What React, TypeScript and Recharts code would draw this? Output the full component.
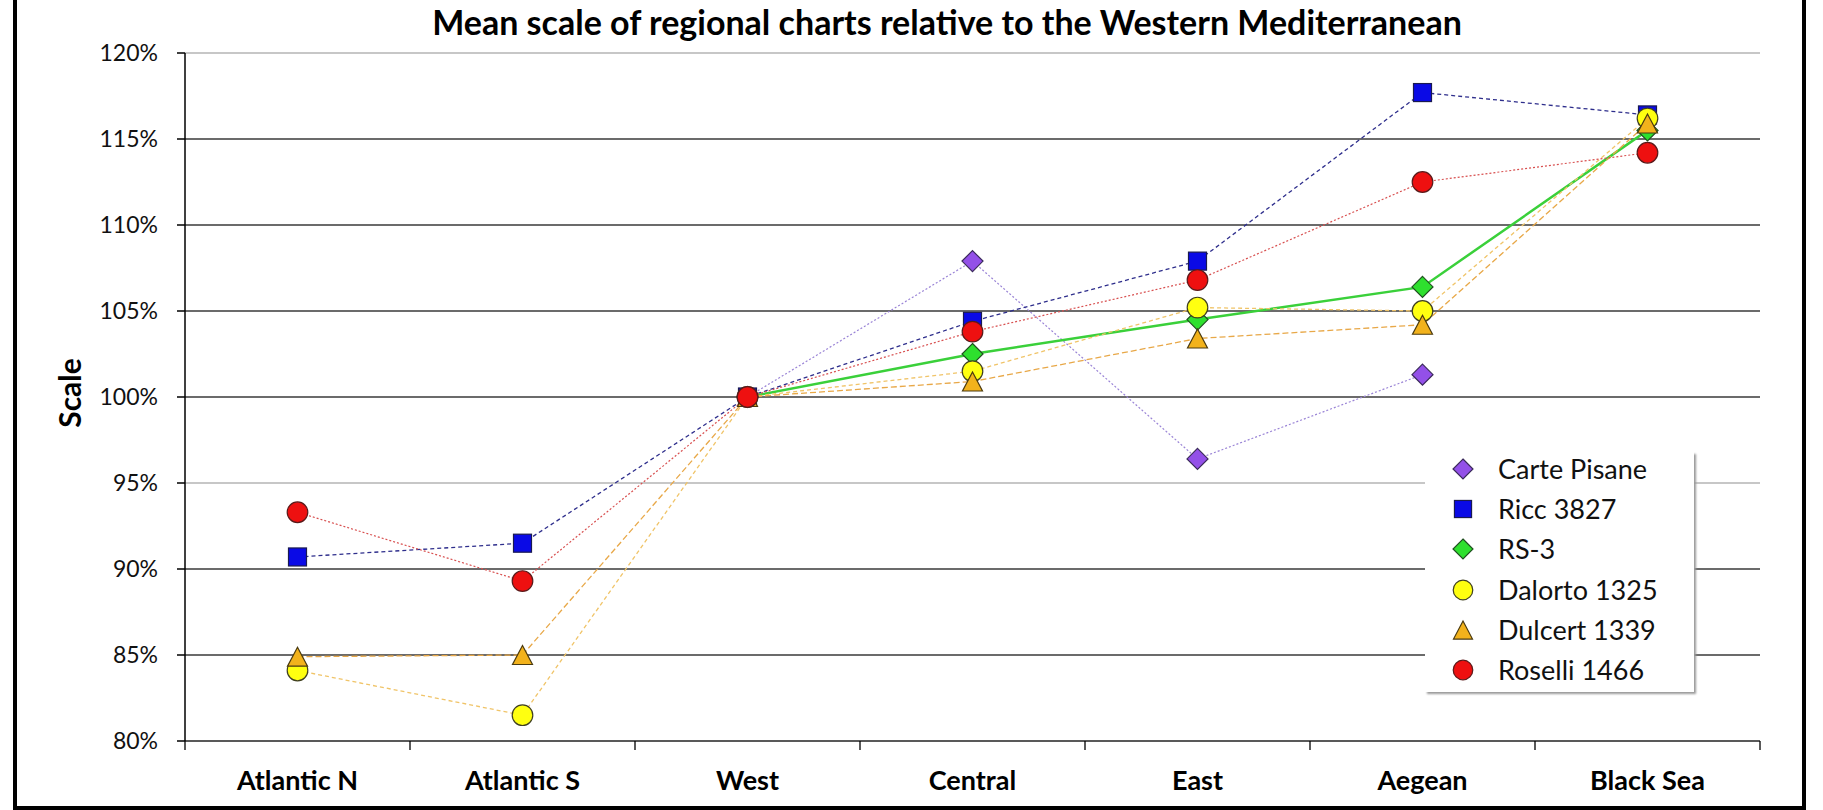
import React from 'react';
import { LineChart, Line, XAxis, YAxis, ReferenceLine } from 'recharts';

const CATEGORIES = ['Atlantic N', 'Atlantic S', 'West', 'Central', 'East', 'Aegean', 'Black Sea'];
const CARTE_PISANE = [null, null, 100, 107.9, 96.4, 101.3, null];
const RICC_3827 = [90.7, 91.5, 100, 104.4, 107.9, 117.7, 116.4];
const RS_3 = [null, null, 100, 102.5, 104.5, 106.4, 115.5];
const DALORTO_1325 = [84.1, 81.5, 100, 101.5, 105.2, 105.0, 116.2];
const DULCERT_1339 = [84.9, 85.0, 100, 100.9, 103.4, 104.2, 115.9];
const ROSELLI_1466 = [93.3, 89.3, 100, 103.8, 106.8, 112.5, 114.2];
const Y_TICKS = [80, 85, 90, 95, 100, 105, 110, 115, 120];
const LIGHT_GRID = [95, 120];
const TITLE = 'Mean scale of regional charts relative to the Western Mediterranean';
const Y_LABEL = 'Scale';

const W = 1823;
const H = 810;
const PLOT_LEFT = 185;
const PLOT_RIGHT = 1760;
const PLOT_TOP = 53;
const PLOT_BOTTOM = 741;
const BAND = (PLOT_RIGHT - PLOT_LEFT) / CATEGORIES.length;
const FONT = 'Lato, "Open Sans", sans-serif';

type Shape = 'diamond' | 'square' | 'circle' | 'triangle';

const SERIES: { key: string; name: string; values: (number | null)[]; shape: Shape; fill: string; stroke: string; line: string; width: number; dash?: string }[] = [
  { key: 'cp', name: 'Carte Pisane', values: CARTE_PISANE, shape: 'diamond', fill: '#9350e8', stroke: '#3a2a5a', line: '#9a84d6', width: 1.2, dash: '2 2' },
  { key: 'ricc', name: 'Ricc 3827', values: RICC_3827, shape: 'square', fill: '#0a0ae6', stroke: '#1a1a50', line: '#2e2e8c', width: 1.3, dash: '4 3' },
  { key: 'rs3', name: 'RS-3', values: RS_3, shape: 'diamond', fill: '#2ee02e', stroke: '#205020', line: '#3ad03a', width: 2.5 },
  { key: 'dal', name: 'Dalorto 1325', values: DALORTO_1325, shape: 'circle', fill: '#ffff10', stroke: '#404020', line: '#f0c468', width: 1.3, dash: '4 3' },
  { key: 'dul', name: 'Dulcert 1339', values: DULCERT_1339, shape: 'triangle', fill: '#f2b21c', stroke: '#4a3a10', line: '#e8a848', width: 1.3, dash: '6 3' },
  { key: 'ros', name: 'Roselli 1466', values: ROSELLI_1466, shape: 'circle', fill: '#ee1010', stroke: '#5a1a1a', line: '#d85050', width: 1.2, dash: '2 2' },
];

const data = CATEGORIES.map((region, i) => {
  const row: Record<string, any> = { region };
  SERIES.forEach((s) => {
    row[s.key] = s.values[i];
  });
  return row;
});

function MarkerShape({ shape, cx, cy, fill, stroke, scale = 1 }: { shape: Shape; cx: number; cy: number; fill: string; stroke: string; scale?: number }) {
  if (shape === 'diamond') {
    const r = 10.5 * scale;
    return <polygon points={`${cx},${cy - r} ${cx + r},${cy} ${cx},${cy + r} ${cx - r},${cy}`} fill={fill} stroke={stroke} strokeWidth={1.2} />;
  }
  if (shape === 'square') {
    const h = 9 * scale;
    return <rect x={cx - h} y={cy - h} width={2 * h} height={2 * h} fill={fill} stroke={stroke} strokeWidth={1.2} />;
  }
  if (shape === 'triangle') {
    const hw = 10 * scale;
    const hh = 9.5 * scale;
    return <polygon points={`${cx},${cy - hh} ${cx + hw},${cy + hh} ${cx - hw},${cy + hh}`} fill={fill} stroke={stroke} strokeWidth={1.2} />;
  }
  return <circle cx={cx} cy={cy} r={10.3 * scale} fill={fill} stroke={stroke} strokeWidth={1.2} />;
}

const XTick = (props: any) => {
  const { x, y, payload, index } = props;
  const half = BAND / 2;
  return (
    <g>
      <line x1={x - half} x2={x - half} y1={y} y2={y + 9} stroke="#000" strokeWidth={1.3} />
      {index === CATEGORIES.length - 1 && <line x1={x + half} x2={x + half} y1={y} y2={y + 9} stroke="#000" strokeWidth={1.3} />}
      <text x={x} y={y + 49} textAnchor="middle" fontFamily={FONT} fontWeight={700} fontSize={27} fill="#000">
        {payload.value}
      </text>
    </g>
  );
};

export default function App() {
  return (
    <div style={{ position: 'absolute', left: 0, top: 0, width: W, height: H, background: '#fff', overflow: 'hidden' }}>
      <LineChart width={W} height={H} data={data} margin={{ top: PLOT_TOP, right: W - PLOT_RIGHT, bottom: 0, left: 0 }}>
        {Y_TICKS.filter((t) => t !== Y_TICKS[0]).map((t) => (
          <ReferenceLine key={t} y={t} stroke={LIGHT_GRID.includes(t) ? '#b4b4b4' : '#3a3a3a'} strokeWidth={1.6} />
        ))}
        <XAxis
          dataKey="region"
          scale="band"
          height={H - PLOT_BOTTOM}
          axisLine={{ stroke: '#222', strokeWidth: 1.6 }}
          tickLine={false}
          tickSize={0}
          tickMargin={0}
          interval={0}
          tick={<XTick />}
        />
        <YAxis
          domain={[Y_TICKS[0], Y_TICKS[Y_TICKS.length - 1]]}
          ticks={Y_TICKS}
          width={PLOT_LEFT}
          axisLine={{ stroke: '#000', strokeWidth: 1.5 }}
          tickLine={{ stroke: '#000', strokeWidth: 1.5 }}
          tickSize={8}
          tickMargin={19}
          tickFormatter={(v: number) => `${v}%`}
          tick={{ fontFamily: FONT, fontSize: 23, fill: '#111' }}
          label={{
            content: ({ viewBox }: any) => (
              <text
                transform={`translate(${viewBox.x + 69}, ${viewBox.y + viewBox.height / 2 - 4}) rotate(-90)`}
                textAnchor="middle"
                dominantBaseline="central"
                fontFamily={FONT}
                fontWeight={700}
                fontSize={30}
                fill="#000"
              >
                {Y_LABEL}
              </text>
            ),
          }}
        />
        {SERIES.map((s) => (
          <Line
            key={s.key}
            dataKey={s.key}
            name={s.name}
            type="linear"
            stroke={s.line}
            strokeWidth={s.width}
            strokeDasharray={s.dash}
            isAnimationActive={false}
            activeDot={false}
            dot={(p: any) =>
              p.value == null || p.cy == null ? (
                <g key={`${s.key}-${p.index}`} />
              ) : (
                <g key={`${s.key}-${p.index}`}>
                  <MarkerShape shape={s.shape} cx={p.cx} cy={p.cy} fill={s.fill} stroke={s.stroke} />
                </g>
              )
            }
          />
        ))}
      </LineChart>
      <div
        style={{
          position: 'absolute',
          left: 347,
          width: 1200,
          top: 0,
          textAlign: 'center',
          fontFamily: FONT,
          fontWeight: 700,
          fontSize: 34,
          lineHeight: '44px',
          color: '#000',
          whiteSpace: 'nowrap',
        }}
      >
        {TITLE}
      </div>
      <div
        style={{
          position: 'absolute',
          left: 1425,
          top: 452,
          width: 269,
          height: 240,
          background: '#fff',
          boxShadow: '2px 2px 2px #9a9a9a',
        }}
      >
        {SERIES.map((s, i) => (
          <div key={s.key} style={{ position: 'absolute', left: 0, top: i * 40.2 - 3, height: 40, width: 269 }}>
            <svg width={60} height={40} style={{ position: 'absolute', left: 0, top: 0 }}>
              <MarkerShape shape={s.shape} cx={38} cy={20} fill={s.fill} stroke={s.stroke} scale={0.95} />
            </svg>
            <div style={{ position: 'absolute', left: 73, top: 0, lineHeight: '40px', fontFamily: FONT, fontSize: 27, color: '#111', whiteSpace: 'nowrap' }}>
              {s.name}
            </div>
          </div>
        ))}
      </div>
      <div
        style={{
          position: 'absolute',
          left: 13,
          top: -10,
          width: 1793,
          height: 820,
          border: '4px solid #000',
          boxSizing: 'border-box',
          pointerEvents: 'none',
        }}
      />
    </div>
  );
}
